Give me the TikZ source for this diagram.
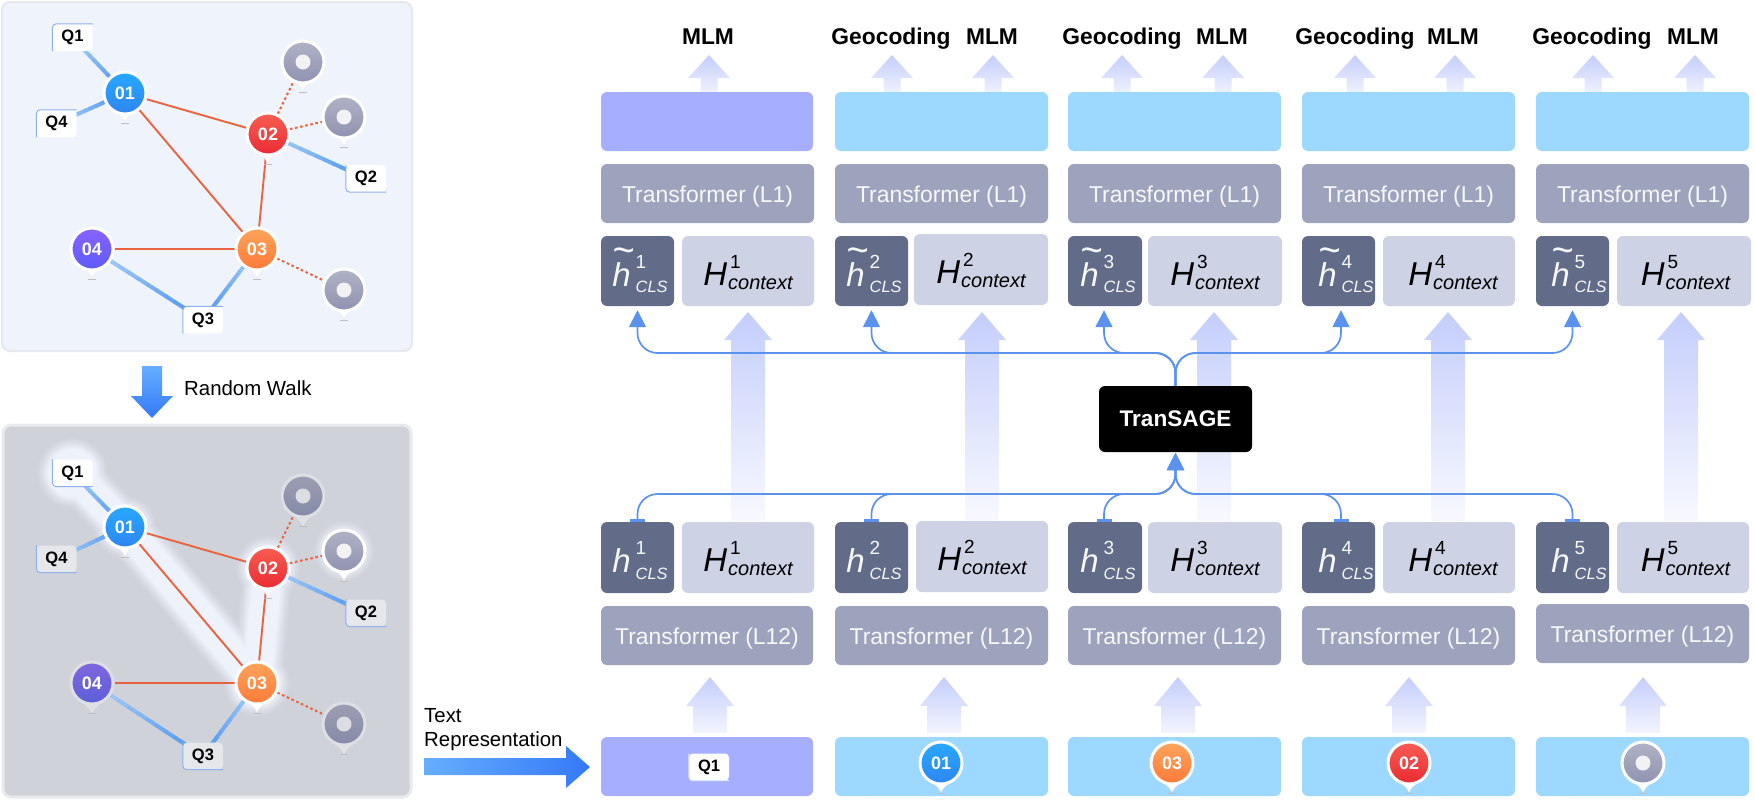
\documentclass[tikz,border=0pt]{standalone}
\usepackage{fontspec}
\usepackage{graphicx}
\setmainfont{Liberation Sans}
\usetikzlibrary{calc,arrows.meta}
\definecolor{panelA}{HTML}{EFF3FB}
\definecolor{panelAb}{HTML}{E6E8EE}
\definecolor{panelB}{HTML}{D0D2DA}
\definecolor{panelBb}{HTML}{E9EAEE}
\definecolor{glowc}{HTML}{EEF2FB}
\definecolor{redc}{HTML}{E9633F}
\definecolor{lightq}{HTML}{A9CFF8}
\definecolor{darkq}{HTML}{4F96EE}
\definecolor{rimc}{HTML}{8FB2EC}
\definecolor{outA}{HTML}{A5AEFF}
\definecolor{outB}{HTML}{9CD8FF}
\definecolor{transc}{HTML}{9DA3BD}
\definecolor{hc}{HTML}{626C89}
\definecolor{ctxc}{HTML}{CDD2E4}
\definecolor{busc}{HTML}{5B92EE}
\definecolor{arrA}{HTML}{C4CEFB}
\definecolor{arrB}{HTML}{EEF1FE}
\definecolor{arrC}{HTML}{F3F5FF}
\definecolor{arrD}{HTML}{CFD9FC}
\definecolor{arrE}{HTML}{F8F9FF}
\definecolor{bluT}{HTML}{27A8FF}
\definecolor{bluB}{HTML}{2E86F0}
\definecolor{redT}{HTML}{F95D52}
\definecolor{redB}{HTML}{E92B33}
\definecolor{oraT}{HTML}{FFA45C}
\definecolor{oraB}{HTML}{FF7A38}
\definecolor{vioT}{HTML}{8A62FF}
\definecolor{vioB}{HTML}{5C5CF8}
\definecolor{vidT}{HTML}{8166DF}
\definecolor{vidB}{HTML}{5B5FD8}
\definecolor{gryT}{HTML}{B0B3C6}
\definecolor{gryB}{HTML}{9092B0}
\definecolor{gdmT}{HTML}{9C9EB2}
\definecolor{gdmB}{HTML}{858AA8}
\definecolor{dotA}{HTML}{F2F2F4}
\definecolor{dotB}{HTML}{DCDDE2}
\definecolor{ringD}{HTML}{DEDFE4}
\definecolor{qdim}{HTML}{E6E7EB}
\definecolor{arrdT}{HTML}{66AEFF}
\definecolor{arrdB}{HTML}{3479F6}
\pgfdeclarelayer{under}
\pgfsetlayers{under,main}
\tikzset{
  transbox/.style={fill=transc,text=white!92!transc,rounded corners=6pt,inner sep=0pt,font=\fontsize{22.9}{24}\selectfont,text height=22pt,text depth=5pt},
  outboxA/.style={fill=outA,rounded corners=6pt,inner sep=0pt},
  outboxB/.style={fill=outB,rounded corners=6pt,inner sep=0pt},
  hbox/.style={fill=hc,text=white!95!hc,rounded corners=6pt,inner sep=0pt,text height=50pt,text depth=20pt},
  ctxbox/.style={fill=ctxc,text=black,rounded corners=6pt,inner sep=0pt,text height=49pt,text depth=21pt},
  headtxt/.style={font=\fontsize{22.8}{24}\selectfont\bfseries,inner sep=0pt,text height=16pt,text depth=5pt},
  pinn/.style={circle,inner sep=0pt,minimum size=42pt,line width=3pt,text=white,font=\fontsize{18}{18}\selectfont\bfseries},
  qb/.style={rectangle,rounded corners=4pt,inner sep=0pt,minimum width=40pt,minimum height=27pt,text=black,font=\fontsize{16.5}{17}\selectfont\bfseries},
  redge/.style={redc,line width=1.9pt},
  rdot/.style={redc,line width=2pt,dash pattern=on 2.6pt off 2.6pt},
  bus/.style={busc,line width=1.7pt,rounded corners=20pt},
  arrS/.style={top color=arrA,bottom color=arrB},
  arrM/.style={top color=arrA,bottom color=arrC},
  arrL/.style={top color=arrA,middle color=arrD,bottom color=arrE},
  labeltxt/.style={font=\fontsize{20.4}{24}\selectfont,inner sep=0pt,text=black},
}
% name, x, y, top colour, bottom colour, ring colour, label
\newcommand{\pinnode}[7]{%
  \begin{scope}[shift={(#2,#3)}]
    \filldraw[fill=#6,draw=black!8,line width=.6pt] (-18,12) .. controls (-11,19) and (-3,22) .. (0,29) .. controls (3,22) and (11,19) .. (18,12) -- cycle;
    \draw[black!25,line width=1pt] (-4,30) -- (4,30);
    \node[pinn,draw=#6,top color=#4,bottom color=#5] (#1) at (0,0) {#7};
  \end{scope}}
\newcommand{\greypin}[7]{%
  \pinnode{#1}{#2}{#3}{#4}{#5}{#6}{}
  \fill[#7] (#1.center) circle[radius=7.5];}
% name, x, y, fill, a, b, c, rim, text
\newcommand{\qbox}[9]{%
  \node[qb,fill=#4] (#1) at (#2,#3) {#9};
  \draw[#8,line width=1pt,rounded corners=4pt] (#1.#5) -- (#1.#6) -- (#1.#7);}
% from, to: gradient link
\newcommand{\glink}[2]{%
  \foreach \gi in {0,...,11}{
    \pgfmathtruncatemacro\gp{\gi*100/11}
    \pgfmathsetmacro\gs{\gi/12}
    \pgfmathsetmacro\ge{(\gi+1)/12}
    \draw[darkq!\gp!lightq,line width=4pt,line cap=round] ($(#1)!\gs!(#2)$) -- ($(#1)!\ge!(#2)$);
  }}
% name,x1,y1,x2,y2,opts,text
\newcommand{\boxat}[7]{%
  \pgfmathsetmacro\bxc{(#2+#4)/2}\pgfmathsetmacro\byc{(#3+#5)/2}%
  \pgfmathsetmacro\bxw{#4-#2}\pgfmathsetmacro\bxh{#5-#3}%
  \node[#6,minimum width=\bxw pt,minimum height=\bxh pt] (#1) at (\bxc,\byc) {#7};}
% x, tip, base, bottom, head half, shaft half, style
\newcommand{\blockup}[7]{%
  \shade[#7] (#1,#2) -- ({#1+#5},#3) -- ({#1+#6},#3) -- ({#1+#6},#4) -- ({#1-#6},#4) -- ({#1-#6},#3) -- ({#1-#5},#3) -- cycle;}
% h text: number, dx
\newcommand{\hplain}[2]{\hspace*{#2}{\fontsize{33}{33}\selectfont\itshape h}\hspace{5pt}\rlap{\raisebox{18pt}{\fontsize{19}{19}\selectfont #1}}\raisebox{-6.5pt}{\fontsize{16.4}{16}\selectfont\itshape CLS}}
\newcommand{\htilde}[2]{\hspace*{#2}\rlap{\raisebox{23pt}{\scalebox{1.15}[1.2]{\fontsize{33}{33}\selectfont\itshape\textasciitilde}}}{\fontsize{33}{33}\selectfont\itshape h}\hspace{5pt}\rlap{\raisebox{18pt}{\fontsize{19}{19}\selectfont #1}}\raisebox{-6.5pt}{\fontsize{16.4}{16}\selectfont\itshape CLS}}
\newcommand{\Hctx}[2]{\hspace*{#2}{\fontsize{33}{33}\selectfont\itshape H}\hspace{1pt}\rlap{\hspace{2pt}\raisebox{17pt}{\fontsize{19}{19}\selectfont #1}}\raisebox{-4pt}{\fontsize{20}{20}\selectfont\itshape context}}
\begin{document}
\begin{tikzpicture}[x=1pt,y=-1pt]
\useasboundingbox (0,0) rectangle (1755,801);
%%% ---- panel A pins and query boxes
\pinnode{a1}{125}{93}{bluT}{bluB}{white}{01}
\pinnode{a2}{268}{134}{redT}{redB}{white}{02}
\pinnode{a3}{257}{249}{oraT}{oraB}{white}{03}
\pinnode{a4}{92}{249}{vioT}{vioB}{white}{04}
\greypin{ag1}{303}{62}{gryT}{gryB}{white}{dotA}
\greypin{ag2}{344}{117}{gryT}{gryB}{white}{dotA}
\greypin{ag3}{344}{290}{gryT}{gryB}{white}{dotA}
\qbox{aq1}{72.5}{37.5}{white}{north east}{north west}{south west}{rimc}{Q1}
\qbox{aq4}{56.5}{123.5}{white}{north east}{north west}{south west}{rimc}{Q4}
\qbox{aq2}{366}{178.5}{white}{south east}{south west}{north west}{rimc}{Q2}
\qbox{aq3}{203}{320}{white}{north east}{north west}{south west}{rimc}{Q3}
%%% ---- panel B pins and query boxes
\pinnode{b1}{125}{527}{bluT}{bluB}{white}{01}
\pinnode{b2}{268}{568}{redT}{redB}{white}{02}
\pinnode{b3}{257}{683}{oraT}{oraB}{white}{03}
\pinnode{b4}{92}{683}{vidT}{vidB}{ringD}{04}
\greypin{bg1}{303}{496}{gdmT}{gdmB}{ringD}{dotB}
\greypin{bg2}{344}{551}{gryT}{gryB}{white}{dotA}
\greypin{bg3}{344}{724}{gdmT}{gdmB}{ringD}{dotB}
\qbox{bq1}{72.5}{473}{white}{south east}{south west}{north west}{rimc}{Q1}
\qbox{bq4}{56.5}{559}{qdim}{south east}{south west}{north west}{rimc}{Q4}
\qbox{bq2}{366}{613}{qdim}{south east}{south west}{north west}{rimc}{Q2}
\qbox{bq3}{203}{756}{qdim}{south east}{south west}{north west}{rimc}{Q3}
\begin{pgfonlayer}{under}
  \fill[panelA,draw=panelAb,line width=2pt,rounded corners=8pt] (2,2) rectangle (412,351);
  \fill[panelB,draw=panelBb,line width=3pt,rounded corners=8pt] (3,425) rectangle (411,797);
  % glow along the walk
  \foreach \f/\w in {8/50,18/47,30/44,44/41,58/38,72/35,86/32,100/29}{
    \colorlet{glowmix}{glowc!\f!panelB}
    \draw[glowmix,line width=\w pt,line cap=round,line join=round] (bq1.center) -- (b1.center) -- (b3.center) -- (b2.center);
    \fill[glowmix] (bq1.center) circle[radius=\w/2+10];
    \fill[glowmix] (b1.center) circle[radius=\w/2+6];
    \fill[glowmix] (b2.center) circle[radius=\w/2+7];
    \fill[glowmix] (b3.center) circle[radius=\w/2+8];
    \fill[glowmix] (bg2.center) circle[radius=\w/2+5];
  }
  % edges of panel A
  \draw[redge] (a1) -- (a2);
  \draw[redge] (a1) -- (a3);
  \draw[redge] (a2) -- (a3);
  \draw[redge] (a4) -- (a3);
  \draw[rdot] (a2) -- (ag1);
  \draw[rdot] (a2) -- (ag2);
  \draw[rdot] (a3) -- (ag3);
  \glink{aq1}{a1}
  \glink{aq4}{a1}
  \glink{a2}{aq2}
  \glink{a4}{aq3}
  \glink{a3}{aq3}
  % edges of panel B
  \draw[redge] (b1) -- (b2);
  \draw[redge] (b1) -- (b3);
  \draw[redge] (b2) -- (b3);
  \draw[redge] (b4) -- (b3);
  \draw[rdot] (b2) -- (bg1);
  \draw[rdot] (b2) -- (bg2);
  \draw[rdot] (b3) -- (bg3);
  \glink{bq1}{b1}
  \glink{bq4}{b1}
  \glink{b2}{bq2}
  \glink{b4}{bq3}
  \glink{b3}{bq3}
\end{pgfonlayer}
% Random Walk arrow
\shade[top color=arrdT,bottom color=arrdB] (152,418) -- (173,396) -- (162,396) -- (162,366) -- (142,366) -- (142,396) -- (131,396) -- cycle;
\node[labeltxt,anchor=base west] (rw) at (184,395) {Random Walk};
% Text Representation arrow
\shade[left color=arrdT,right color=arrdB] (424,758) -- (566,758) -- (566,746) -- (590,767) -- (566,788) -- (566,775) -- (424,775) -- cycle;
\node[labeltxt,anchor=base west] (t1) at (424,722) {Text};
\node[labeltxt,anchor=base west] (t2) at (424,746) {Representation};
%%% ---- block arrows
\blockup{709}{55}{78}{92}{21}{8.5}{arrS}
\blockup{892}{55}{78}{92}{21}{8.5}{arrS}
\blockup{993}{55}{78}{92}{21}{8.5}{arrS}
\blockup{1122}{55}{78}{92}{21}{8.5}{arrS}
\blockup{1223}{55}{78}{92}{21}{8.5}{arrS}
\blockup{1355}{55}{78}{92}{21}{8.5}{arrS}
\blockup{1455}{55}{78}{92}{21}{8.5}{arrS}
\blockup{1593}{55}{78}{92}{21}{8.5}{arrS}
\blockup{1695}{55}{78}{92}{21}{8.5}{arrS}
\foreach \ax in {710,944,1178,1409,1643}{\blockup{\ax}{677}{706}{733}{24}{17}{arrM}}
\foreach \ax in {748,982,1214,1448,1681}{\blockup{\ax}{312}{340}{521}{24}{17}{arrL}}
%%% ---- headings
\node[headtxt] (m1) at (708,38.5) {MLM};
\node[headtxt] (g2) at (891,38.5) {Geocoding};
\node[headtxt] (m2) at (992,38.5) {MLM};
\node[headtxt] (g3) at (1122,38.5) {Geocoding};
\node[headtxt] (m3) at (1222,38.5) {MLM};
\node[headtxt] (g4) at (1355,38.5) {Geocoding};
\node[headtxt] (m4) at (1453,38.5) {MLM};
\node[headtxt] (g5) at (1592,38.5) {Geocoding};
\node[headtxt] (m5) at (1693,38.5) {MLM};
%%% ---- column boxes
\boxat{o1}{601}{92}{813}{151}{outboxA}{}
\boxat{o2}{835}{92}{1048}{151}{outboxB}{}
\boxat{o3}{1068}{92}{1281}{151}{outboxB}{}
\boxat{o4}{1302}{92}{1515}{151}{outboxB}{}
\boxat{o5}{1536}{92}{1749}{151}{outboxB}{}
\boxat{tu1}{601}{164}{814}{223}{transbox}{Transformer (L1)}
\boxat{tu2}{835}{164}{1048}{223}{transbox}{Transformer (L1)}
\boxat{tu3}{1068}{164}{1281}{223}{transbox}{Transformer (L1)}
\boxat{tu4}{1302}{164}{1515}{223}{transbox}{Transformer (L1)}
\boxat{tu5}{1536}{164}{1749}{223}{transbox}{Transformer (L1)}
\boxat{hu1}{601}{236}{674}{306}{hbox}{\htilde{1}{5pt}}
\boxat{hu2}{835}{236}{908}{306}{hbox}{\htilde{2}{5pt}}
\boxat{hu3}{1068}{236}{1142}{306}{hbox}{\htilde{3}{6pt}}
\boxat{hu4}{1302}{236}{1375}{306}{hbox}{\htilde{4}{15pt}}
\boxat{hu5}{1536}{236}{1609}{306}{hbox}{\htilde{5}{13pt}}
\boxat{cu1}{682}{236}{814}{306}{ctxbox}{\Hctx{1}{0pt}}
\boxat{cu2}{914}{234}{1048}{305}{ctxbox}{\Hctx{2}{0pt}}
\boxat{cu3}{1148}{236}{1282}{306}{ctxbox}{\Hctx{3}{0pt}}
\boxat{cu4}{1383}{236}{1515}{306}{ctxbox}{\Hctx{4}{8pt}}
\boxat{cu5}{1617}{236}{1751}{306}{ctxbox}{\Hctx{5}{3pt}}
\boxat{hl1}{601}{522}{674}{593}{hbox}{\hplain{1}{5pt}}
\boxat{hl2}{835}{522}{908}{593}{hbox}{\hplain{2}{5pt}}
\boxat{hl3}{1068}{522}{1142}{593}{hbox}{\hplain{3}{6pt}}
\boxat{hl4}{1302}{522}{1375}{593}{hbox}{\hplain{4}{15pt}}
\boxat{hl5}{1536}{522}{1609}{593}{hbox}{\hplain{5}{13pt}}
\boxat{cl1}{682}{522}{814}{593}{ctxbox}{\Hctx{1}{0pt}}
\boxat{cl2}{916}{521}{1048}{592}{ctxbox}{\Hctx{2}{0pt}}
\boxat{cl3}{1148}{522}{1282}{593}{ctxbox}{\Hctx{3}{0pt}}
\boxat{cl4}{1383}{522}{1515}{593}{ctxbox}{\Hctx{4}{8pt}}
\boxat{cl5}{1617}{522}{1749}{593}{ctxbox}{\Hctx{5}{5pt}}
\boxat{tl1}{601}{606}{813}{665}{transbox}{Transformer (L12)}
\boxat{tl2}{835}{606}{1048}{665}{transbox}{Transformer (L12)}
\boxat{tl3}{1068}{606}{1281}{665}{transbox}{Transformer (L12)}
\boxat{tl4}{1302}{606}{1515}{665}{transbox}{Transformer (L12)}
\boxat{tl5}{1536}{604}{1749}{663}{transbox}{Transformer (L12)}
\boxat{i1}{601}{737}{813}{796}{outboxA}{}
\boxat{i2}{835}{737}{1048}{796}{outboxB}{}
\boxat{i3}{1068}{737}{1281}{796}{outboxB}{}
\boxat{i4}{1302}{737}{1515}{796}{outboxB}{}
\boxat{i5}{1536}{737}{1749}{796}{outboxB}{}
\qbox{iq1}{709}{767}{white}{south east}{south west}{north west}{white!70!rimc}{Q1}
\pinnode{ip2}{941}{763}{bluT}{bluB}{white}{01}
\pinnode{ip3}{1172}{763}{oraT}{oraB}{white}{03}
\pinnode{ip4}{1409}{763}{redT}{redB}{white}{02}
\greypin{ip5}{1643}{763}{gryT}{gryB}{white}{dotA}
%%% ---- TranSAGE and its connectors
\boxat{sage}{1099}{386}{1252}{452}{fill=black,rounded corners=6pt,inner sep=0pt,text=white,font=\fontsize{22.6}{24}\selectfont\bfseries}{TranSAGE}
\coordinate (busU) at (1175,353);
\coordinate (busL) at (1175,494);
\foreach \c/\dx in {1/0,2/0,3/-1,4/2.5,5/0}{
  \draw[bus,-{Triangle[length=17pt,width=17pt]},shorten >=4pt] (sage.north) -- (sage.north |- busU) -- ([xshift=\dx pt]hu\c.south |- busU) -- ([xshift=\dx pt]hu\c.south);
  \draw[bus,{Bar[width=15pt,line width=2.5pt]}-{Triangle[length=17pt,width=17pt]},shorten >=1pt] ([xshift=\dx pt]hl\c.north) -- ([xshift=\dx pt]hl\c.north |- busL) -- (sage.south |- busL) -- (sage.south);
}
\end{tikzpicture}
\end{document}
